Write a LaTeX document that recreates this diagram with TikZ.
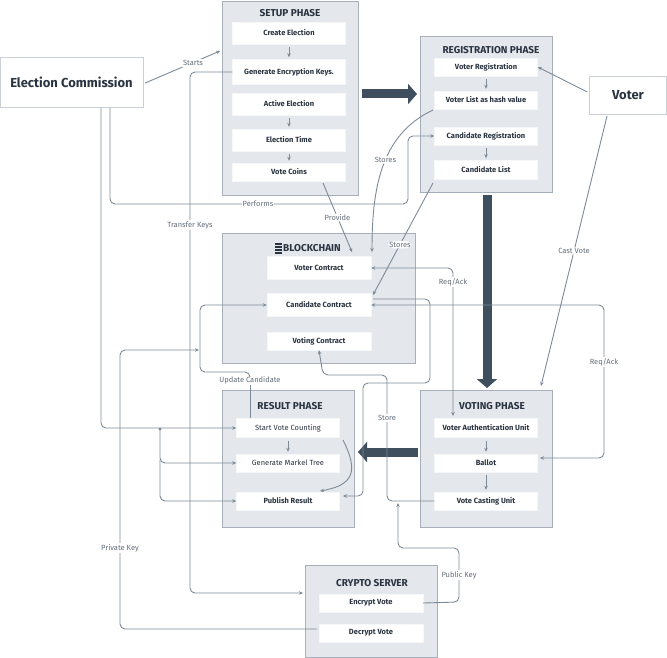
\documentclass[tikz,border=0pt]{standalone}
\usepackage{fontspec}
\setmainfont{Fira Sans}
\usetikzlibrary{arrows.meta}
\definecolor{pfill}{HTML}{E4E7EB}
\definecolor{pline}{HTML}{A7B0BA}
\definecolor{cline}{HTML}{7D8A98}
\definecolor{dark}{HTML}{3F4F5E}
\definecolor{txt}{HTML}{2A3440}
\begin{document}
\begin{tikzpicture}[x=1pt,y=-1pt,
 phase/.style={draw=pline,fill=pfill,line width=0.8pt},
 inner/.style={draw=white!90!pline,fill=white,font=\fontsize{7.5}{8}\selectfont\bfseries,text=txt},
 title/.style={font=\fontsize{10}{10}\selectfont\bfseries,text=txt},
 conn/.style={draw=cline,line width=0.9pt,rounded corners=5pt},
 arr/.style={conn,-{Stealth[length=4pt,width=3.5pt]}},
 lab/.style={font=\fontsize{7.5}{8}\selectfont,text=cline!80!black,fill=white,inner sep=1pt},
 big/.style={draw=dark,line width=9pt,-{Triangle[length=9pt,width=20pt]}}]
\useasboundingbox (0,0) rectangle (667,658);
% phase boxes
\path[phase] (222,1) rectangle (358,195);
\node[title] at (290,13) {SETUP PHASE};
\path[phase] (420,36) rectangle (552,192);
\node[title] at (491,50) {REGISTRATION PHASE};
\path[phase] (222,233) rectangle (415,363);
\path[phase] (222,390) rectangle (354,527);
\node[title] at (290,406) {RESULT PHASE};
\path[phase] (420,390) rectangle (552,527);
\node[title] at (492,406) {VOTING PHASE};
\path[phase] (305,565) rectangle (437,657);
\node[title] at (372,583) {CRYPTO SERVER};
% blockchain title with icon
\node[title,anchor=west,inner sep=0pt] (bct) at (283,248) {BLOCKCHAIN};
\foreach \yy in {243,246,249,252}{\fill[txt] (275,\yy) rectangle (282,\yy+2);}
% election commission, voter
\node[draw=pline!60,fill=white,minimum width=143,minimum height=50,font=\fontsize{13}{13}\selectfont\bfseries,text=txt] (ec) at (71.5,82) {Election Commission};
\node[draw=pline!60,fill=white,minimum width=77,minimum height=38,font=\fontsize{13}{13}\selectfont\bfseries,text=txt] (voter) at (628,95) {Voter};
% inner boxes
\newcommand{\ib}[5]{\node[inner,minimum width=#3,minimum height=#4] (#1) at #2 {#5};}
\ib{ce}{(289,33)}{113}{22}{Create Election}
\ib{gek}{(289,72)}{113}{25}{Generate Encryption Keys.}
\ib{ae}{(289,104)}{113}{22}{Active Election}
\ib{et}{(289,140)}{113}{22}{Election Time}
\ib{vc}{(289,172)}{113}{18}{Vote Coins}
\ib{vr}{(486,67)}{103}{18}{Voter Registration}
\ib{vl}{(486,100)}{103}{18}{Voter List as hash value}
\ib{cr}{(486,136)}{103}{18}{Candidate Registration}
\ib{cl}{(486,170)}{103}{19}{Candidate List}
\ib{vco}{(319,268)}{104}{23}{Voter Contract}
\ib{cco}{(319,305)}{104}{23}{Candidate Contract}
\ib{vto}{(319,341)}{104}{18}{Voting Contract}
\node[inner,font=\fontsize{7.5}{8}\selectfont,minimum width=103,minimum height=19] (svc) at (288,428) {Start Vote Counting};
\node[inner,font=\fontsize{7.5}{8}\selectfont,minimum width=103,minimum height=18] (gmt) at (288,463) {Generate Markel Tree};
\ib{pr}{(288,501)}{103}{18}{Publish Result}
\ib{vau}{(486,428)}{103}{19}{Voter Authentication Unit}
\ib{bal}{(486,463)}{103}{18}{Ballot}
\ib{vcu}{(486,501)}{103}{18}{Vote Casting Unit}
\ib{ev}{(371,603)}{104}{18}{Encrypt Vote}
\ib{dv}{(371,633)}{104}{18}{Decrypt Vote}
% small arrows
\foreach \a/\b in {ce/gek,ae/et,et/vc,vr/vl,cr/cl,svc/gmt,vau/bal,bal/vcu}{
 \draw[arr,shorten <=3pt,shorten >=2pt] (\a.south) -- (\b.north);}
% big arrows
\draw[big] (362,94) -- (417,94);
\draw[big] (487,195) -- (487,388);
\draw[big] (418,452) -- (358,452);
% connectors
\coordinate (st) at (220,51);
\draw[arr] (ec.east) ++(2,1) -- (st);
\node[lab] at (193,63) {Starts};
\draw[arr] (gek.west) -- (190,72) -- (190,593) -- (303,593);
\node[lab] at (190,225) {Transfer Keys};
\draw[arr] (110,108) -- (110,204) -- (408,204) -- (408,136) -- (cr.west);
\node[lab] at (258,204) {Performs};
\draw[arr] (101,108) -- (101,428) -- (svc.west);
\fill[cline] (160,429) circle (1.6pt);
\draw[arr] (160,429) -- (160,463) -- (gmt.west);
\draw[arr] (160,460) -- (160,501) -- (pr.west);
\draw[arr] (323,183) -- node[lab,pos=0.5]{Provide} (352,252);
\draw[arr] (433,110) .. controls (380,135) and (372,190) .. node[lab,pos=0.45]{Stores} (372,252);
\draw[arr] (433,183) -- node[lab,pos=0.55]{Stores} (373,295);
\draw[conn,{Stealth[length=4pt,width=3.5pt]}-{Stealth[length=4pt,width=3.5pt]}] (vco.east) -- (453,268) -- (453,416);
\node[lab] at (453,282) {Req/Ack};
\draw[conn,{Stealth[length=4pt,width=3.5pt]}-{Stealth[length=4pt,width=3.5pt]}] (cco.east) -- (604,305) -- (604,458) -- (540,458);
\node[lab] at (604,362) {Req/Ack};
\draw[arr] (373,299) -- (430,299) -- (430,383) -- (363,383) -- (363,496) -- (343,496);
\draw[arr] (343,440) .. controls (358,470) and (355,485) .. (320,491);
\draw[conn] (svc.north -| 250,0) -- (250,383);
\node[lab] at (250,380) {Update Candidate};
\draw[arr] (250,377) -- (250,372) -- (200,372) -- (200,305) -- (cco.west);
\coordinate (dvl) at (317,629);
\draw[arr] (dvl) -- (120,629) -- (120,350) -- (199,350);
\node[lab] at (120,548) {Private Key};
\draw[arr] (vcu.west) -- (387,501) -- (387,375) -- (323,375) -- (vto.south);
\node[lab] at (387,418) {Store};
\draw[arr] (ev.east) -- (459,602) -- (459,548) -- (398,548) -- (398,503);
\node[lab] at (459,575) {Public Key};
\draw[arr] (voter.west) ++(-2,-3) -- (vr.east);
\draw[arr] (607,116) -- node[lab,pos=0.5]{Cast Vote} (541,386);
\end{tikzpicture}
\end{document}
